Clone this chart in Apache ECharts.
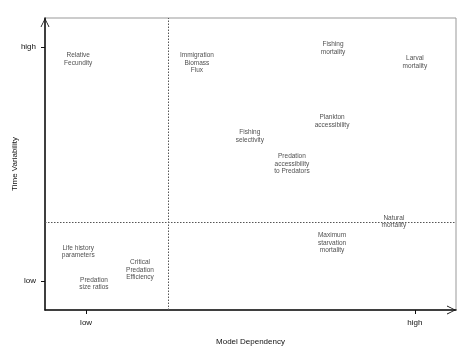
<!DOCTYPE html>
<html>
<head>
<meta charset="utf-8">
<script src="https://cdn.jsdelivr.net/npm/echarts@6/dist/echarts.min.js"></script>
<style>html,body{margin:0;padding:0;background:#fff}#c{width:474px;height:355px}</style>
</head>
<body>
<div id="c"></div>
<script>
// Factor names (\n = line breaks as in the figure)
var names = [
  'Relative\nFecundity',
  'Immigration\nBiomass\nFlux',
  'Fishing\nmortality',
  'Larval\nmortality',
  'Plankton\naccessibility',
  'Fishing\nselectivity',
  'Predation\naccessibility\nto Predators',
  'Natural\nmortality',
  'Maximum\nstarvation\nmortality',
  'Life history\nparameters',
  'Critical\nPredation\nEfficiency',
  'Predation\nsize ratios'
];
// Model dependency (0 = low, 1 = high)
var modelDependency = [-0.024, 0.337, 0.751, 1.0, 0.748, 0.498, 0.626, 0.936, 0.748, -0.024, 0.164, 0.024];
// Time variability (0 = low, 1 = high)
var timeVariability = [0.949, 0.932, 0.996, 0.936, 0.684, 0.62, 0.5, 0.252, 0.162, 0.124, 0.047, -0.013];
// Tick labels
var tickValues = [0, 1];
var tickLabels = ['low', 'high'];
// Quadrant dividers
var xDivider = 0.25;
var yDivider = 0.25;

var data = names.map(function (n, i) { return { name: n, value: [modelDependency[i], timeVariability[i]] }; });

var chevron = 'path://M0,10 L5,0 L10,10 L9,10 L5,1.6 L1,10 Z';
var font = 'Liberation Sans, Arial, sans-serif';

function axis(name, gap) {
  return {
    type: 'value', min: -0.125, max: 1.125,
    name: name, nameLocation: 'middle', nameGap: gap, nameMoveOverlap: false,
    nameTextStyle: { fontFamily: font, fontSize: 8, color: '#111' },
    axisLine: { show: true, onZero: false, lineStyle: { color: '#111', width: 1.5 },
      symbol: ['none', chevron], symbolSize: [10, 9], symbolOffset: [0, -4.5] },
    axisTick: { show: true, customValues: tickValues, length: 4, lineStyle: { color: '#111' } },
    axisLabel: { show: true, customValues: tickValues, margin: 9, fontFamily: font, fontSize: 8, color: '#111',
      formatter: function (v) { var k = tickValues.indexOf(v); return k >= 0 ? tickLabels[k] : ''; } },
    splitLine: { show: false }
  };
}

var chart = echarts.init(document.getElementById('c'), null, { renderer: 'canvas' });
chart.setOption({
  animation: false,
  backgroundColor: '#fff',
  grid: { left: 45, top: 18, width: 411, height: 292, show: true, borderColor: '#999', borderWidth: 1,
    containLabel: false, outerBoundsMode: 'none' },
  xAxis: axis('Model Dependency', 28),
  yAxis: axis('Time Variability', 26),
  series: [{
    type: 'scatter',
    data: data,
    symbolSize: 1,
    itemStyle: { color: 'rgba(0,0,0,0)' },
    label: {
      show: true, position: 'inside', formatter: '{b}',
      fontFamily: font, fontSize: 6.5, lineHeight: 7.5, color: '#222', align: 'center'
    },
    markLine: {
      silent: true, symbol: 'none', label: { show: false },
      lineStyle: { type: [1.5, 1.5], color: '#555', width: 1 },
      data: [{ xAxis: xDivider }, { yAxis: yDivider }]
    }
  }]
});
</script>
</body>
</html>
